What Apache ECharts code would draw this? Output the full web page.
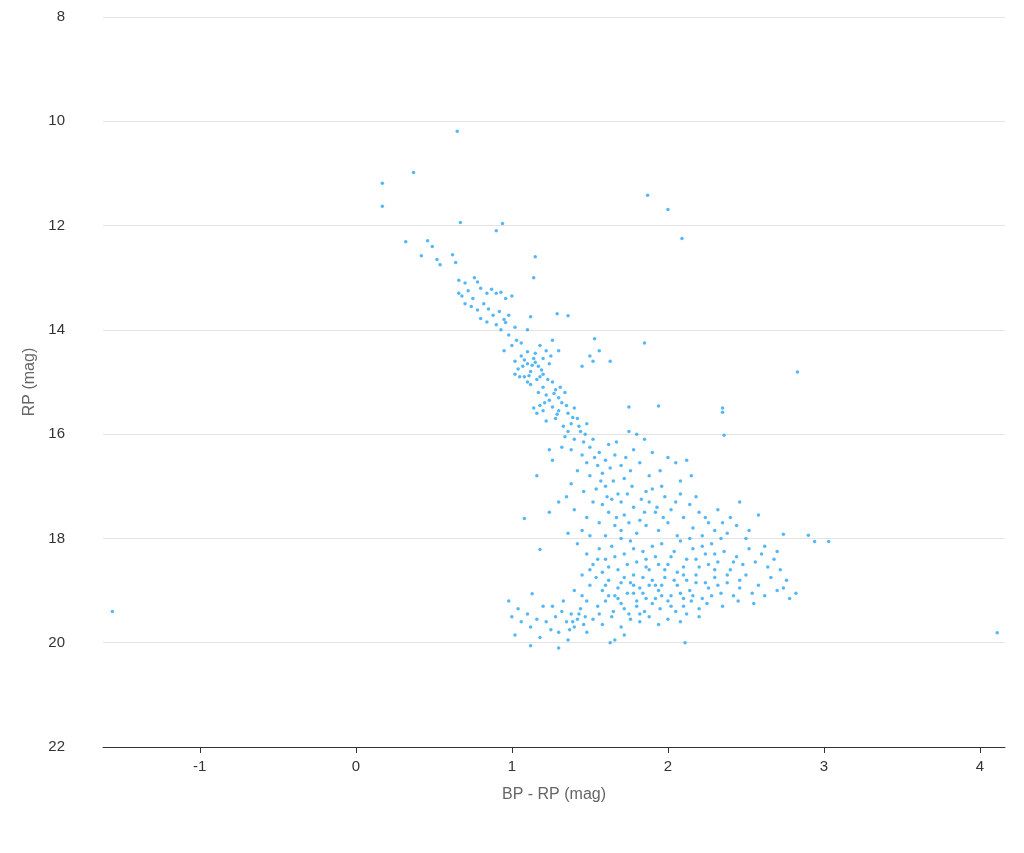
<!DOCTYPE html>
<html>
<head>
<meta charset="utf-8">
<script src="https://cdn.jsdelivr.net/npm/echarts@6/dist/echarts.min.js"></script>
<style>html,body{margin:0;padding:0;background:#fff}#main{width:1024px;height:853px}</style>
</head>
<body>
<div id="main"></div>
<script>
// [BP-RP, RP], grouped by region
var brightStars = [[0.65,10.19],[0.17,11.19],[0.17,11.63],[0.37,10.98],[0.67,11.94],[0.94,11.96],[0.9,12.1],
    [0.32,12.31],[0.46,12.29],[0.49,12.4],[0.42,12.58],[0.52,12.65],[0.54,12.75],[0.62,12.56],[0.64,12.71],
    [1.87,11.42],[2.0,11.69],[2.09,12.25],[1.15,12.6]];
var outliers = [[2.83,14.81],[2.35,15.5],[2.35,15.58],[2.36,16.02],[-1.56,19.4],[4.11,19.81],[3.03,18.06],[2.94,18.06],
    [2.9,17.94],[2.74,17.92],[1.85,14.25],[1.63,14.6],[1.53,14.17],[1.36,13.73],[1.29,13.69],[1.94,15.46],[1.75,15.48],
    [1.08,17.62],[1.18,18.21],[1.13,19.06],[1.12,20.06],[1.3,20.1],[2.11,20.0],[1.63,20.0]];
var upperMS = [[0.66,13.05],[0.7,13.1],[0.76,13.0],[0.78,13.08],[0.66,13.3],[0.68,13.35],[0.72,13.25],[0.75,13.4],[0.8,13.2],
    [0.84,13.3],[0.87,13.22],[0.9,13.3],[0.93,13.28],[0.96,13.4],[1.0,13.35],[0.7,13.5],[0.74,13.55],[0.78,13.62],[0.82,13.5],
    [0.85,13.6],[0.88,13.72],[0.92,13.65],[0.95,13.8],[0.8,13.78],[0.84,13.85],[0.9,13.9],[0.96,13.86],[0.98,13.72],[1.02,13.95],
    [0.93,14.0],[0.98,14.1],[1.03,14.2],[0.95,14.4],[1.1,14.0],[1.12,13.75],[1.14,13.0],[1.0,14.3],[1.06,14.25],[1.1,14.42]];
var midMS = [[1.02,14.6],[1.04,14.75],[1.06,14.5],[1.08,14.9],[1.1,14.65],[1.12,14.8],[1.14,14.55],[1.15,14.45],[1.17,14.7],
    [1.18,14.3],[1.2,14.55],[1.22,14.4],[1.24,14.65],[1.16,14.95],[1.1,15.0],[1.05,14.9],[1.02,14.85],[1.2,14.85],[1.25,14.5],
    [1.08,14.58],[1.13,14.68],[1.18,14.9],[1.12,15.05],[1.2,15.1],[1.22,15.25],[1.26,15.0],[1.28,15.15],[1.3,15.3],[1.24,15.35],
    [1.18,15.45],[1.14,15.5],[1.16,15.6],[1.2,15.55],[1.26,15.48],[1.32,15.4],[1.34,15.2],[1.3,15.55],[1.36,15.6],[1.28,15.7],
    [1.22,15.75],[1.4,15.5],[1.42,15.7],[1.38,15.8],[1.33,15.85],[1.36,15.95],[1.44,15.95],[1.4,16.1],[1.46,16.15],[1.48,15.8],
    [1.26,14.2],[1.3,14.4],[1.5,14.5],[1.52,14.6],[1.45,14.7],[1.56,14.4],[1.24,16.3],[1.26,16.5],[1.32,16.25],[1.16,16.8],
    [1.07,14.7],[1.11,14.88],[1.15,14.62],[1.19,14.77],[1.23,14.95],[1.27,15.22],[1.31,15.1],[1.35,15.45],[1.29,15.62],[1.39,15.68],
    [1.43,15.85],[1.34,16.05],[1.47,16.0],[1.21,15.4],[1.17,15.2]];
var lowerMS = [[1.38,16.3],[1.45,16.4],[1.5,16.25],[1.52,16.1],[1.56,16.35],[1.6,16.5],[1.55,16.6],[1.48,16.55],[1.42,16.7],
    [1.5,16.8],[1.58,16.75],[1.62,16.2],[1.66,16.4],[1.7,16.6],[1.75,15.95],[1.8,16.0],[1.85,16.1],[1.78,16.3],[1.9,16.35],
    [1.72,16.85],[1.65,16.9],[1.6,17.0],[1.54,17.05],[1.46,17.1],[1.38,16.95],[1.35,17.2],[1.68,17.15],[1.76,16.7],[1.82,16.55],
    [1.88,16.8],[1.95,16.7],[2.0,16.45],[2.05,16.55],[2.12,16.5],[2.15,16.8],[2.08,16.9],[1.96,17.0],[1.86,17.1],[1.7,17.3],[1.58,17.35],
    [1.24,17.5],[1.3,17.3],[1.4,17.45],[1.48,17.6],[1.52,17.3],[1.56,17.7],[1.62,17.5],[1.66,17.75],[1.72,17.55],[1.78,17.4],
    [1.82,17.65],[1.88,17.3],[1.92,17.5],[1.98,17.2],[2.02,17.45],[2.08,17.15],[2.1,17.6],[2.14,17.35],[2.2,17.5],[2.26,17.7],
    [2.32,17.45],[2.4,17.6],[2.46,17.3],[2.52,17.85],[2.58,17.55],[1.45,17.85],[1.6,17.95],[1.7,17.85],[1.8,17.9],[1.86,17.75],
    [1.94,17.85],[2.0,17.7],[2.06,17.95],[2.16,17.8],[2.22,17.95],[2.3,17.85],[2.38,17.9],[2.44,17.75],[1.5,17.95],[1.36,17.9],
    [1.74,17.15],[1.64,17.25],[2.18,17.2],[1.9,17.05],
    [1.53,16.45],[1.63,16.65],[1.67,16.15],[1.57,16.9],[1.73,16.45],[1.61,17.2],[1.77,17.0],[1.83,17.25],[1.93,17.4],[2.05,17.3],
    [1.67,17.6],[1.75,17.7],[1.85,17.5],[1.97,17.6],[2.24,17.6],[2.35,17.7]];
var faintClump = [[1.42,18.1],[1.48,18.3],[1.52,18.5],[1.56,18.2],[1.6,18.4],[1.64,18.15],[1.68,18.6],[1.72,18.3],[1.76,18.05],
    [1.8,18.45],[1.84,18.25],[1.88,18.6],[1.92,18.35],[1.96,18.1],[2.0,18.5],[2.04,18.25],[2.08,18.05],[2.12,18.4],[2.16,18.2],
    [2.2,18.55],[2.24,18.3],[2.28,18.1],[2.32,18.45],[2.36,18.25],[2.4,18.6],[2.44,18.35],[2.48,18.5],[2.52,18.2],[2.56,18.45],
    [2.6,18.3],[2.64,18.55],[2.68,18.4],[2.72,18.6],[2.76,18.8],
    [1.45,18.7],[1.5,18.9],[1.54,18.75],[1.58,19.0],[1.62,18.8],[1.66,19.1],[1.7,18.85],[1.74,19.05],[1.78,18.7],[1.82,18.95],
    [1.86,19.15],[1.9,18.8],[1.94,19.0],[1.98,18.75],[2.02,19.1],[2.06,18.9],[2.1,18.7],[2.14,19.0],[2.18,18.85],[2.22,19.15],
    [2.26,18.95],[2.3,18.75],[2.34,19.05],[2.38,18.85],[2.42,19.1],[2.46,18.95],[2.5,18.7],[2.54,19.05],[2.58,18.9],[2.62,19.1],
    [2.66,18.75],[2.7,19.0],[2.74,18.95],[2.78,19.15],[2.82,19.05],
    [1.55,19.3],[1.6,19.2],[1.65,19.4],[1.7,19.25],[1.75,19.45],[1.8,19.3],[1.85,19.4],[1.9,19.25],[1.95,19.35],[2.0,19.2],
    [2.05,19.4],[2.1,19.3],[2.15,19.2],[2.2,19.35],[2.25,19.25],[2.35,19.3],[2.45,19.2],[2.55,19.25],[1.52,19.55],[1.58,19.65],
    [1.64,19.5],[1.7,19.7],[1.76,19.55],[1.82,19.6],[1.88,19.5],[1.94,19.65],[2.0,19.55],[2.08,19.6],[2.2,19.5],[1.66,19.95],[1.72,19.85],
    [1.62,18.55],[1.74,18.5],[1.86,18.55],[1.98,18.6],[2.06,18.65],[2.18,18.7],[2.3,18.6],[1.5,18.6],[1.58,18.65],[1.7,18.0],
    [1.9,18.15],[2.14,18.0],[2.34,18.0],[2.5,18.0],[2.62,18.15],[2.7,18.25],[1.8,19.2],[1.96,19.1],[2.1,19.15],[2.28,19.1],
    [1.68,19.15],[1.78,18.9],[1.92,18.9],[2.04,18.8],[2.12,18.8],[1.84,18.75],[1.72,18.75],[2.38,18.7],[2.46,18.8],
    [1.55,18.4],[1.66,18.35],[1.78,18.2],[1.86,18.4],[1.94,18.5],[2.02,18.35],[2.1,18.55],[2.18,18.4],[2.26,18.5],[2.22,18.15],
    [2.3,18.3],[2.42,18.45],[1.6,18.9],[1.68,18.95],[1.76,18.85],[1.84,19.05],[1.88,18.9],[1.96,18.9],[2.08,19.05],[2.16,19.1],
    [2.24,18.85],[2.32,18.9],[1.62,19.1],[1.72,19.35],[1.82,19.45],[1.92,19.15],[2.02,19.3],[2.12,19.45],[1.56,19.45],[1.78,19.05]];
var blueTail = [[0.98,19.2],[1.0,19.5],[1.04,19.35],[1.02,19.85],[1.06,19.6],[1.1,19.45],[1.12,19.7],[1.16,19.55],[1.18,19.9],
    [1.2,19.3],[1.22,19.6],[1.25,19.75],[1.28,19.5],[1.3,19.8],[1.33,19.2],[1.35,19.6],[1.38,19.45],[1.4,19.7],[1.42,19.55],
    [1.44,19.35],[1.46,19.65],[1.48,19.8],[1.36,19.95],[1.26,19.3],[1.45,19.1],[1.4,19.0],[1.48,19.2],
    [1.32,19.4],[1.39,19.6],[1.43,19.45],[1.37,19.75],[1.47,19.5]];
var xTicks = [-1, 0, 1, 2, 3, 4];

var stars = [].concat(brightStars, outliers, upperMS, midMS, lowerMS, faintClump, blueTail);

var chart = echarts.init(document.getElementById('main'));
chart.setOption({
    animation: false,
    grid: {left: 103, right: 19, top: 17, bottom: 106},
    xAxis: {
        type: 'value', min: -1.62, max: 4.16,
        name: 'BP - RP (mag)', nameLocation: 'middle', nameGap: 40,
        nameTextStyle: {color: '#666', fontSize: 16},
        axisLine: {lineStyle: {color: '#333'}},
        axisTick: {customValues: xTicks, length: 6, lineStyle: {color: '#333'}},
        axisLabel: {customValues: xTicks, color: '#333', fontSize: 15, margin: 12},
        splitLine: {show: false}
    },
    yAxis: {
        type: 'value', inverse: true, min: 8, max: 22, interval: 2,
        name: 'RP (mag)', nameLocation: 'middle', nameGap: 55,
        nameTextStyle: {color: '#666', fontSize: 16},
        axisLine: {show: false}, axisTick: {show: false},
        axisLabel: {color: '#333', fontSize: 15, margin: 38, align: 'right'},
        splitLine: {lineStyle: {color: '#e3e3e3'}}
    },
    series: [{
        type: 'scatter', data: stars, symbolSize: 3.5,
        itemStyle: {color: '#29a6f5'}
    }]
});
</script>
</body>
</html>
